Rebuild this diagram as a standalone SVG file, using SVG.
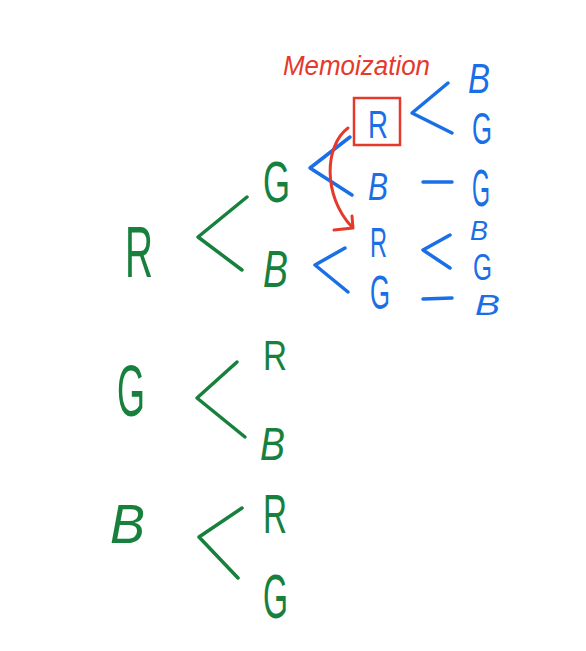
<svg xmlns="http://www.w3.org/2000/svg" width="586" height="651" viewBox="0 0 586 651">
<style>
.g{fill:#17803d;font-family:"Liberation Sans",Arial,sans-serif;text-anchor:start}
.b{fill:#1a6fe6;font-family:"Liberation Sans",Arial,sans-serif;text-anchor:start}
.i{font-style:italic}
.lg{fill:none;stroke:#17803d;stroke-width:3.5;stroke-linecap:round;stroke-linejoin:round}
.lb{fill:none;stroke:#1a6fe6;stroke-width:3.5;stroke-linecap:round;stroke-linejoin:round}
.lr{fill:none;stroke:#e5392b;stroke-width:3;stroke-linecap:round;stroke-linejoin:round}
</style>
<rect width="586" height="651" fill="#ffffff"/>
<g id="title"><text x="283" y="75" font-family="Liberation Sans,Arial,sans-serif" font-style="italic" font-size="27" fill="#e5392b" textLength="147" lengthAdjust="spacingAndGlyphs">Memoization</text></g>
<g id="root-R"><text class="g" x="125" y="277" font-size="72" textLength="28" lengthAdjust="spacingAndGlyphs">R</text></g>
<g id="R-G"><text class="g" x="263" y="202" font-size="58" textLength="27" lengthAdjust="spacingAndGlyphs">G</text></g>
<g id="R-B"><text class="g i" x="263" y="287" font-size="52" textLength="25" lengthAdjust="spacingAndGlyphs">B</text></g>
<g id="root-G"><text class="g" x="117" y="416" font-size="73" textLength="28" lengthAdjust="spacingAndGlyphs">G</text></g>
<g id="G-R"><text class="g" x="263" y="370" font-size="42" textLength="24" lengthAdjust="spacingAndGlyphs">R</text></g>
<g id="G-B"><text class="g i" x="260" y="460" font-size="46" textLength="25" lengthAdjust="spacingAndGlyphs">B</text></g>
<g id="root-B"><text class="g i" x="110" y="543" font-size="56" textLength="35" lengthAdjust="spacingAndGlyphs">B</text></g>
<g id="B-R"><text class="g" x="263" y="533" font-size="56" textLength="24" lengthAdjust="spacingAndGlyphs">R</text></g>
<g id="B-G"><text class="g" x="263" y="618" font-size="63" textLength="25" lengthAdjust="spacingAndGlyphs">G</text></g>
<g id="memo-R">
<rect x="354" y="98" width="46" height="47" fill="none" stroke="#e5392b" stroke-width="2.5"/>
<text class="b" x="368" y="138" font-size="39" textLength="20" lengthAdjust="spacingAndGlyphs">R</text>
</g>
<g id="GR-B"><text class="b i" x="468" y="93" font-size="42" textLength="22" lengthAdjust="spacingAndGlyphs">B</text></g>
<g id="GR-G"><text class="b" x="472" y="144" font-size="44" textLength="20" lengthAdjust="spacingAndGlyphs">G</text></g>
<g id="GB"><text class="b i" x="368" y="200" font-size="38" textLength="20" lengthAdjust="spacingAndGlyphs">B</text></g>
<g id="GB-G"><text class="b" x="472" y="206" font-size="51" textLength="18" lengthAdjust="spacingAndGlyphs">G</text></g>
<g id="BR"><text class="b" x="370" y="257" font-size="42" textLength="17" lengthAdjust="spacingAndGlyphs">R</text></g>
<g id="BR-B"><text class="b i" x="470" y="240" font-size="27" textLength="18" lengthAdjust="spacingAndGlyphs">B</text></g>
<g id="BR-G"><text class="b" x="473" y="280" font-size="36" textLength="19" lengthAdjust="spacingAndGlyphs">G</text></g>
<g id="BG"><text class="b" x="370" y="309" font-size="48" textLength="20" lengthAdjust="spacingAndGlyphs">G</text></g>
<g id="BG-B"><text class="b i" x="475" y="315" font-size="30" textLength="25" lengthAdjust="spacingAndGlyphs">B</text></g>
<g id="connectors">
<polyline class="lg" points="247,197 198,237 242,270"/>
<polyline class="lg" points="237,362 197,398 245,437"/>
<polyline class="lg" points="242,508 199,537 238,578"/>
<polyline class="lb" points="350,137 310,168 352,195"/>
<polyline class="lb" points="345,248 315,265 348,292"/>
<polyline class="lb" points="448,83 412,113 452,133"/>
<polyline class="lb" points="450,235 423,250 450,268"/>
<line class="lb" x1="423" y1="182" x2="452" y2="182"/>
<line class="lb" x1="423" y1="299" x2="452" y2="298"/>
<path class="lr" d="M348,128 C325,145 322,195 352,227"/>
<polyline class="lr" points="334,230 353,228 352,216"/>
</g>
</svg>
